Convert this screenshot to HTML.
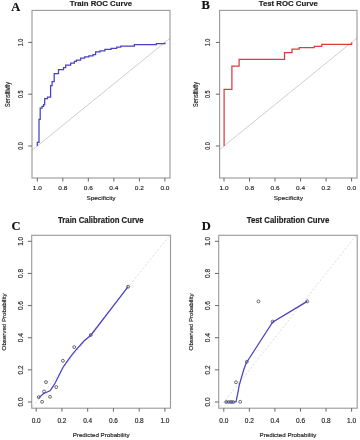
<!DOCTYPE html>
<html><head><meta charset="utf-8"><style>
html,body{margin:0;padding:0;background:#fff;width:360px;height:440px;overflow:hidden}
svg{display:block;will-change:transform;filter:blur(0.3px)}
</style></head><body>
<svg width="360" height="440" viewBox="0 0 360 440">
<rect width="360" height="440" fill="#fff"/>
<line x1="-62.7" y1="227.19122257053291" x2="264.9" y2="-38.79122257053291" stroke="#c8c8c8" stroke-width="0.9"  clip-path="url(#c32_10)"/>
<clipPath id="c32_10"><rect x="32" y="10.4" width="138" height="167.6"/></clipPath>
<polyline points="37.30,146.00 37.30,142.30 39.00,142.30 39.00,119.30 40.20,119.30 40.20,108.10 42.00,108.10 42.00,106.40 43.60,106.40 43.60,104.70 44.70,104.70 44.70,98.50 47.50,98.50 47.50,97.00 50.60,97.00 50.60,85.50 52.10,85.50 52.10,81.60 54.20,81.60 54.20,73.50 58.50,73.50 58.50,69.50 63.50,69.50 63.50,67.70 65.70,67.70 65.70,65.00 70.70,65.00 70.70,63.20 74.40,63.20 74.40,61.40 76.40,61.40 76.40,60.20 80.60,60.20 80.60,58.10 84.70,58.10 84.70,56.75 88.90,56.75 88.90,55.80 93.00,55.80 93.00,54.70 95.60,54.70 95.60,51.90 100.00,51.90 100.00,50.80 104.90,50.80 104.90,49.40 111.10,49.40 111.10,48.40 116.70,48.40 116.70,47.00 120.80,47.00 120.80,46.10 134.40,46.10 134.40,44.50 156.30,44.50 156.30,43.50 164.90,43.50 164.90,42.40" fill="none" stroke="#4840c6" stroke-width="1.25" stroke-linejoin="miter" stroke-linecap="butt" />
<rect x="32" y="10.4" width="138" height="167.6" fill="none" stroke="#9c9c9c" stroke-width="1.15"/>
<line x1="37.3" y1="178" x2="37.3" y2="181.5" stroke="#666" stroke-width="1"/>
<text transform="translate(37.3,190.2) scale(1,0.82)" font-family="Liberation Sans" font-size="6.5" font-weight="normal" text-anchor="middle" fill="#1e1e1e" stroke="#1e1e1e" stroke-width="0.16">1.0</text>
<line x1="62.81999999999999" y1="178" x2="62.81999999999999" y2="181.5" stroke="#666" stroke-width="1"/>
<text transform="translate(62.81999999999999,190.2) scale(1,0.82)" font-family="Liberation Sans" font-size="6.5" font-weight="normal" text-anchor="middle" fill="#1e1e1e" stroke="#1e1e1e" stroke-width="0.16">0.8</text>
<line x1="88.34" y1="178" x2="88.34" y2="181.5" stroke="#666" stroke-width="1"/>
<text transform="translate(88.34,190.2) scale(1,0.82)" font-family="Liberation Sans" font-size="6.5" font-weight="normal" text-anchor="middle" fill="#1e1e1e" stroke="#1e1e1e" stroke-width="0.16">0.6</text>
<line x1="113.85999999999999" y1="178" x2="113.85999999999999" y2="181.5" stroke="#666" stroke-width="1"/>
<text transform="translate(113.85999999999999,190.2) scale(1,0.82)" font-family="Liberation Sans" font-size="6.5" font-weight="normal" text-anchor="middle" fill="#1e1e1e" stroke="#1e1e1e" stroke-width="0.16">0.4</text>
<line x1="139.38" y1="178" x2="139.38" y2="181.5" stroke="#666" stroke-width="1"/>
<text transform="translate(139.38,190.2) scale(1,0.82)" font-family="Liberation Sans" font-size="6.5" font-weight="normal" text-anchor="middle" fill="#1e1e1e" stroke="#1e1e1e" stroke-width="0.16">0.2</text>
<line x1="164.89999999999998" y1="178" x2="164.89999999999998" y2="181.5" stroke="#666" stroke-width="1"/>
<text transform="translate(164.89999999999998,190.2) scale(1,0.82)" font-family="Liberation Sans" font-size="6.5" font-weight="normal" text-anchor="middle" fill="#1e1e1e" stroke="#1e1e1e" stroke-width="0.16">0.0</text>
<line x1="28.2" y1="146.0" x2="32" y2="146.0" stroke="#666" stroke-width="1"/>
<text transform="translate(22.5,146.0) scale(1,0.85) rotate(-90)" font-family="Liberation Sans" font-size="6.5" font-weight="normal" text-anchor="middle" fill="#1e1e1e" stroke="#1e1e1e" stroke-width="0.16">0.0</text>
<line x1="28.2" y1="94.2" x2="32" y2="94.2" stroke="#666" stroke-width="1"/>
<text transform="translate(22.5,94.2) scale(1,0.85) rotate(-90)" font-family="Liberation Sans" font-size="6.5" font-weight="normal" text-anchor="middle" fill="#1e1e1e" stroke="#1e1e1e" stroke-width="0.16">0.5</text>
<line x1="28.2" y1="42.400000000000006" x2="32" y2="42.400000000000006" stroke="#666" stroke-width="1"/>
<text transform="translate(22.5,42.400000000000006) scale(1,0.85) rotate(-90)" font-family="Liberation Sans" font-size="6.5" font-weight="normal" text-anchor="middle" fill="#1e1e1e" stroke="#1e1e1e" stroke-width="0.16">1.0</text>
<text transform="translate(101.0,200.4) scale(1,0.82)" font-family="Liberation Sans" font-size="6.5" font-weight="normal" text-anchor="middle" fill="#1e1e1e" stroke="#1e1e1e" stroke-width="0.16">Specificity</text>
<text transform="translate(10.2,94.5) scale(1,0.85) rotate(-90)" font-family="Liberation Sans" font-size="6.5" font-weight="normal" text-anchor="middle" fill="#1e1e1e" stroke="#1e1e1e" stroke-width="0.16">Sensitivity</text>
<text transform="translate(101,6.3) scale(1,0.9)" font-family="Liberation Sans" font-size="7.8" font-weight="bold" text-anchor="middle" fill="#222" stroke="#222" stroke-width="0.16">Train ROC Curve</text>
<text transform="translate(11.3,10.8) scale(1,1.0)" font-family="Liberation Serif" font-size="12.5" font-weight="bold" text-anchor="start" fill="#111" stroke="#111" stroke-width="0.16">A</text>
<line x1="124.0" y1="227.19122257053291" x2="451.6" y2="-38.79122257053291" stroke="#c8c8c8" stroke-width="0.9"  clip-path="url(#c219_10)"/>
<clipPath id="c219_10"><rect x="219.6" y="10.4" width="137.4" height="167.6"/></clipPath>
<polyline points="224.10,146.00 224.10,89.40 231.90,89.40 231.90,66.20 239.10,66.20 239.10,59.40 284.50,59.40 284.50,52.70 292.00,52.70 292.00,49.00 299.20,49.00 299.20,47.70 314.20,47.70 314.20,46.30 321.80,46.30 321.80,44.30 351.70,44.30 351.70,42.40" fill="none" stroke="#dd3b42" stroke-width="1.25" stroke-linejoin="miter" stroke-linecap="butt" />
<rect x="219.6" y="10.4" width="137.4" height="167.6" fill="none" stroke="#9c9c9c" stroke-width="1.15"/>
<line x1="224.0" y1="178" x2="224.0" y2="181.5" stroke="#666" stroke-width="1"/>
<text transform="translate(224.0,190.2) scale(1,0.82)" font-family="Liberation Sans" font-size="6.5" font-weight="normal" text-anchor="middle" fill="#1e1e1e" stroke="#1e1e1e" stroke-width="0.16">1.0</text>
<line x1="249.51999999999998" y1="178" x2="249.51999999999998" y2="181.5" stroke="#666" stroke-width="1"/>
<text transform="translate(249.51999999999998,190.2) scale(1,0.82)" font-family="Liberation Sans" font-size="6.5" font-weight="normal" text-anchor="middle" fill="#1e1e1e" stroke="#1e1e1e" stroke-width="0.16">0.8</text>
<line x1="275.04" y1="178" x2="275.04" y2="181.5" stroke="#666" stroke-width="1"/>
<text transform="translate(275.04,190.2) scale(1,0.82)" font-family="Liberation Sans" font-size="6.5" font-weight="normal" text-anchor="middle" fill="#1e1e1e" stroke="#1e1e1e" stroke-width="0.16">0.6</text>
<line x1="300.56" y1="178" x2="300.56" y2="181.5" stroke="#666" stroke-width="1"/>
<text transform="translate(300.56,190.2) scale(1,0.82)" font-family="Liberation Sans" font-size="6.5" font-weight="normal" text-anchor="middle" fill="#1e1e1e" stroke="#1e1e1e" stroke-width="0.16">0.4</text>
<line x1="326.08" y1="178" x2="326.08" y2="181.5" stroke="#666" stroke-width="1"/>
<text transform="translate(326.08,190.2) scale(1,0.82)" font-family="Liberation Sans" font-size="6.5" font-weight="normal" text-anchor="middle" fill="#1e1e1e" stroke="#1e1e1e" stroke-width="0.16">0.2</text>
<line x1="351.6" y1="178" x2="351.6" y2="181.5" stroke="#666" stroke-width="1"/>
<text transform="translate(351.6,190.2) scale(1,0.82)" font-family="Liberation Sans" font-size="6.5" font-weight="normal" text-anchor="middle" fill="#1e1e1e" stroke="#1e1e1e" stroke-width="0.16">0.0</text>
<line x1="215.79999999999998" y1="146.0" x2="219.6" y2="146.0" stroke="#666" stroke-width="1"/>
<text transform="translate(210.1,146.0) scale(1,0.85) rotate(-90)" font-family="Liberation Sans" font-size="6.5" font-weight="normal" text-anchor="middle" fill="#1e1e1e" stroke="#1e1e1e" stroke-width="0.16">0.0</text>
<line x1="215.79999999999998" y1="94.2" x2="219.6" y2="94.2" stroke="#666" stroke-width="1"/>
<text transform="translate(210.1,94.2) scale(1,0.85) rotate(-90)" font-family="Liberation Sans" font-size="6.5" font-weight="normal" text-anchor="middle" fill="#1e1e1e" stroke="#1e1e1e" stroke-width="0.16">0.5</text>
<line x1="215.79999999999998" y1="42.400000000000006" x2="219.6" y2="42.400000000000006" stroke="#666" stroke-width="1"/>
<text transform="translate(210.1,42.400000000000006) scale(1,0.85) rotate(-90)" font-family="Liberation Sans" font-size="6.5" font-weight="normal" text-anchor="middle" fill="#1e1e1e" stroke="#1e1e1e" stroke-width="0.16">1.0</text>
<text transform="translate(288.3,200.4) scale(1,0.82)" font-family="Liberation Sans" font-size="6.5" font-weight="normal" text-anchor="middle" fill="#1e1e1e" stroke="#1e1e1e" stroke-width="0.16">Specificity</text>
<text transform="translate(197.79999999999998,94.5) scale(1,0.85) rotate(-90)" font-family="Liberation Sans" font-size="6.5" font-weight="normal" text-anchor="middle" fill="#1e1e1e" stroke="#1e1e1e" stroke-width="0.16">Sensitivity</text>
<text transform="translate(288.3,6.3) scale(1,0.9)" font-family="Liberation Sans" font-size="7.8" font-weight="bold" text-anchor="middle" fill="#222" stroke="#222" stroke-width="0.16">Test ROC Curve</text>
<text transform="translate(201.5,8.8) scale(1,1.0)" font-family="Liberation Serif" font-size="12.5" font-weight="bold" text-anchor="start" fill="#111" stroke="#111" stroke-width="0.16">B</text>
<line x1="-92.49999999999999" y1="562.7" x2="293.59999999999997" y2="80.60000000000002" stroke="#d6d6d6" stroke-width="0.9" stroke-dasharray="2,2" clip-path="url(#c31_235)"/>
<clipPath id="c31_235"><rect x="31.7" y="235.3" width="138.8" height="172.89999999999998"/></clipPath>
<circle cx="38.75" cy="397.1" r="1.45" fill="none" stroke="#5a5a5a" stroke-width="0.9"/>
<circle cx="42.1" cy="401.8" r="1.45" fill="none" stroke="#5a5a5a" stroke-width="0.9"/>
<circle cx="44" cy="391.5" r="1.45" fill="none" stroke="#5a5a5a" stroke-width="0.9"/>
<circle cx="46" cy="382.1" r="1.45" fill="none" stroke="#5a5a5a" stroke-width="0.9"/>
<circle cx="50" cy="396.8" r="1.45" fill="none" stroke="#5a5a5a" stroke-width="0.9"/>
<circle cx="56.25" cy="387.1" r="1.45" fill="none" stroke="#5a5a5a" stroke-width="0.9"/>
<circle cx="62.9" cy="360.8" r="1.45" fill="none" stroke="#5a5a5a" stroke-width="0.9"/>
<circle cx="74.2" cy="347.1" r="1.45" fill="none" stroke="#5a5a5a" stroke-width="0.9"/>
<circle cx="90.7" cy="335" r="1.45" fill="none" stroke="#5a5a5a" stroke-width="0.9"/>
<circle cx="128.1" cy="286.7" r="1.45" fill="none" stroke="#5a5a5a" stroke-width="0.9"/>
<polyline points="38.75,397.90 43.30,393.75 50.00,390.80 52.90,386.70 55.40,382.50 59.20,375.00 62.90,367.50 67.50,360.80 72.50,354.20 76.70,349.20 84.20,340.80 90.70,335.50 128.10,286.70" fill="none" stroke="#4840c6" stroke-width="1.25" stroke-linejoin="miter" stroke-linecap="butt" stroke-linejoin="round"/>
<rect x="31.7" y="235.3" width="138.8" height="172.89999999999998" fill="none" stroke="#9c9c9c" stroke-width="1.15"/>
<line x1="36.2" y1="408.2" x2="36.2" y2="411.7" stroke="#666" stroke-width="1"/>
<text transform="translate(36.2,422.8) scale(1,1.0)" font-family="Liberation Sans" font-size="6.5" font-weight="normal" text-anchor="middle" fill="#1e1e1e" stroke="#1e1e1e" stroke-width="0.16">0.0</text>
<line x1="27.9" y1="402.0" x2="31.7" y2="402.0" stroke="#666" stroke-width="1"/>
<text transform="translate(22.7,402.0) scale(1,1.0) rotate(-90)" font-family="Liberation Sans" font-size="6.5" font-weight="normal" text-anchor="middle" fill="#1e1e1e" stroke="#1e1e1e" stroke-width="0.16">0.0</text>
<line x1="61.94" y1="408.2" x2="61.94" y2="411.7" stroke="#666" stroke-width="1"/>
<text transform="translate(61.94,422.8) scale(1,1.0)" font-family="Liberation Sans" font-size="6.5" font-weight="normal" text-anchor="middle" fill="#1e1e1e" stroke="#1e1e1e" stroke-width="0.16">0.2</text>
<line x1="27.9" y1="369.86" x2="31.7" y2="369.86" stroke="#666" stroke-width="1"/>
<text transform="translate(22.7,369.86) scale(1,1.0) rotate(-90)" font-family="Liberation Sans" font-size="6.5" font-weight="normal" text-anchor="middle" fill="#1e1e1e" stroke="#1e1e1e" stroke-width="0.16">0.2</text>
<line x1="87.68" y1="408.2" x2="87.68" y2="411.7" stroke="#666" stroke-width="1"/>
<text transform="translate(87.68,422.8) scale(1,1.0)" font-family="Liberation Sans" font-size="6.5" font-weight="normal" text-anchor="middle" fill="#1e1e1e" stroke="#1e1e1e" stroke-width="0.16">0.4</text>
<line x1="27.9" y1="337.72" x2="31.7" y2="337.72" stroke="#666" stroke-width="1"/>
<text transform="translate(22.7,337.72) scale(1,1.0) rotate(-90)" font-family="Liberation Sans" font-size="6.5" font-weight="normal" text-anchor="middle" fill="#1e1e1e" stroke="#1e1e1e" stroke-width="0.16">0.4</text>
<line x1="113.41999999999999" y1="408.2" x2="113.41999999999999" y2="411.7" stroke="#666" stroke-width="1"/>
<text transform="translate(113.41999999999999,422.8) scale(1,1.0)" font-family="Liberation Sans" font-size="6.5" font-weight="normal" text-anchor="middle" fill="#1e1e1e" stroke="#1e1e1e" stroke-width="0.16">0.6</text>
<line x1="27.9" y1="305.58000000000004" x2="31.7" y2="305.58000000000004" stroke="#666" stroke-width="1"/>
<text transform="translate(22.7,305.58000000000004) scale(1,1.0) rotate(-90)" font-family="Liberation Sans" font-size="6.5" font-weight="normal" text-anchor="middle" fill="#1e1e1e" stroke="#1e1e1e" stroke-width="0.16">0.6</text>
<line x1="139.16" y1="408.2" x2="139.16" y2="411.7" stroke="#666" stroke-width="1"/>
<text transform="translate(139.16,422.8) scale(1,1.0)" font-family="Liberation Sans" font-size="6.5" font-weight="normal" text-anchor="middle" fill="#1e1e1e" stroke="#1e1e1e" stroke-width="0.16">0.8</text>
<line x1="27.9" y1="273.44" x2="31.7" y2="273.44" stroke="#666" stroke-width="1"/>
<text transform="translate(22.7,273.44) scale(1,1.0) rotate(-90)" font-family="Liberation Sans" font-size="6.5" font-weight="normal" text-anchor="middle" fill="#1e1e1e" stroke="#1e1e1e" stroke-width="0.16">0.8</text>
<line x1="164.89999999999998" y1="408.2" x2="164.89999999999998" y2="411.7" stroke="#666" stroke-width="1"/>
<text transform="translate(164.89999999999998,422.8) scale(1,1.0)" font-family="Liberation Sans" font-size="6.5" font-weight="normal" text-anchor="middle" fill="#1e1e1e" stroke="#1e1e1e" stroke-width="0.16">1.0</text>
<line x1="27.9" y1="241.3" x2="31.7" y2="241.3" stroke="#666" stroke-width="1"/>
<text transform="translate(22.7,241.3) scale(1,1.0) rotate(-90)" font-family="Liberation Sans" font-size="6.5" font-weight="normal" text-anchor="middle" fill="#1e1e1e" stroke="#1e1e1e" stroke-width="0.16">1.0</text>
<text transform="translate(101.1,437.4) scale(1,1.0)" font-family="Liberation Sans" font-size="6.2" font-weight="normal" text-anchor="middle" fill="#1e1e1e" stroke="#1e1e1e" stroke-width="0.16">Predicted Probability</text>
<text transform="translate(6.199999999999999,321.9) scale(1,1.0) rotate(-90)" font-family="Liberation Sans" font-size="6.15" font-weight="normal" text-anchor="middle" fill="#1e1e1e" stroke="#1e1e1e" stroke-width="0.16">Observed Probability</text>
<text transform="translate(100.8,223.1) scale(1,1.05)" font-family="Liberation Sans" font-size="7.8" font-weight="bold" text-anchor="middle" fill="#222" stroke="#222" stroke-width="0.16">Train Calibration Curve</text>
<text transform="translate(11.5,229.8) scale(1,1.0)" font-family="Liberation Serif" font-size="12.5" font-weight="bold" text-anchor="start" fill="#111" stroke="#111" stroke-width="0.16">C</text>
<line x1="96.00000000000001" y1="562.7" x2="479.4" y2="80.60000000000002" stroke="#d6d6d6" stroke-width="0.9" stroke-dasharray="2,2" clip-path="url(#c218_235)"/>
<clipPath id="c218_235"><rect x="218.7" y="235.3" width="138.5" height="172.89999999999998"/></clipPath>
<circle cx="226.2" cy="402" r="1.45" fill="none" stroke="#5a5a5a" stroke-width="0.9"/>
<circle cx="228.6" cy="402" r="1.45" fill="none" stroke="#5a5a5a" stroke-width="0.9"/>
<circle cx="231" cy="402" r="1.45" fill="none" stroke="#5a5a5a" stroke-width="0.9"/>
<circle cx="233.2" cy="402" r="1.45" fill="none" stroke="#5a5a5a" stroke-width="0.9"/>
<circle cx="240.2" cy="401.8" r="1.45" fill="none" stroke="#5a5a5a" stroke-width="0.9"/>
<circle cx="236" cy="382.3" r="1.45" fill="none" stroke="#5a5a5a" stroke-width="0.9"/>
<circle cx="246.8" cy="361.8" r="1.45" fill="none" stroke="#5a5a5a" stroke-width="0.9"/>
<circle cx="258.5" cy="301.4" r="1.45" fill="none" stroke="#5a5a5a" stroke-width="0.9"/>
<circle cx="272.6" cy="321.6" r="1.45" fill="none" stroke="#5a5a5a" stroke-width="0.9"/>
<circle cx="307.2" cy="301.4" r="1.45" fill="none" stroke="#5a5a5a" stroke-width="0.9"/>
<polyline points="225.30,402.00 236.00,401.80 237.70,393.60 239.40,384.50 241.70,376.60 243.90,369.20 246.20,363.00 248.50,359.50 272.60,322.20 307.20,301.40" fill="none" stroke="#4840c6" stroke-width="1.25" stroke-linejoin="miter" stroke-linecap="butt" stroke-linejoin="round"/>
<rect x="218.7" y="235.3" width="138.5" height="172.89999999999998" fill="none" stroke="#9c9c9c" stroke-width="1.15"/>
<line x1="223.8" y1="408.2" x2="223.8" y2="411.7" stroke="#666" stroke-width="1"/>
<text transform="translate(223.8,422.8) scale(1,1.0)" font-family="Liberation Sans" font-size="6.5" font-weight="normal" text-anchor="middle" fill="#1e1e1e" stroke="#1e1e1e" stroke-width="0.16">0.0</text>
<line x1="214.89999999999998" y1="402.0" x2="218.7" y2="402.0" stroke="#666" stroke-width="1"/>
<text transform="translate(209.7,402.0) scale(1,1.0) rotate(-90)" font-family="Liberation Sans" font-size="6.5" font-weight="normal" text-anchor="middle" fill="#1e1e1e" stroke="#1e1e1e" stroke-width="0.16">0.0</text>
<line x1="249.36" y1="408.2" x2="249.36" y2="411.7" stroke="#666" stroke-width="1"/>
<text transform="translate(249.36,422.8) scale(1,1.0)" font-family="Liberation Sans" font-size="6.5" font-weight="normal" text-anchor="middle" fill="#1e1e1e" stroke="#1e1e1e" stroke-width="0.16">0.2</text>
<line x1="214.89999999999998" y1="369.86" x2="218.7" y2="369.86" stroke="#666" stroke-width="1"/>
<text transform="translate(209.7,369.86) scale(1,1.0) rotate(-90)" font-family="Liberation Sans" font-size="6.5" font-weight="normal" text-anchor="middle" fill="#1e1e1e" stroke="#1e1e1e" stroke-width="0.16">0.2</text>
<line x1="274.92" y1="408.2" x2="274.92" y2="411.7" stroke="#666" stroke-width="1"/>
<text transform="translate(274.92,422.8) scale(1,1.0)" font-family="Liberation Sans" font-size="6.5" font-weight="normal" text-anchor="middle" fill="#1e1e1e" stroke="#1e1e1e" stroke-width="0.16">0.4</text>
<line x1="214.89999999999998" y1="337.72" x2="218.7" y2="337.72" stroke="#666" stroke-width="1"/>
<text transform="translate(209.7,337.72) scale(1,1.0) rotate(-90)" font-family="Liberation Sans" font-size="6.5" font-weight="normal" text-anchor="middle" fill="#1e1e1e" stroke="#1e1e1e" stroke-width="0.16">0.4</text>
<line x1="300.48" y1="408.2" x2="300.48" y2="411.7" stroke="#666" stroke-width="1"/>
<text transform="translate(300.48,422.8) scale(1,1.0)" font-family="Liberation Sans" font-size="6.5" font-weight="normal" text-anchor="middle" fill="#1e1e1e" stroke="#1e1e1e" stroke-width="0.16">0.6</text>
<line x1="214.89999999999998" y1="305.58000000000004" x2="218.7" y2="305.58000000000004" stroke="#666" stroke-width="1"/>
<text transform="translate(209.7,305.58000000000004) scale(1,1.0) rotate(-90)" font-family="Liberation Sans" font-size="6.5" font-weight="normal" text-anchor="middle" fill="#1e1e1e" stroke="#1e1e1e" stroke-width="0.16">0.6</text>
<line x1="326.04" y1="408.2" x2="326.04" y2="411.7" stroke="#666" stroke-width="1"/>
<text transform="translate(326.04,422.8) scale(1,1.0)" font-family="Liberation Sans" font-size="6.5" font-weight="normal" text-anchor="middle" fill="#1e1e1e" stroke="#1e1e1e" stroke-width="0.16">0.8</text>
<line x1="214.89999999999998" y1="273.44" x2="218.7" y2="273.44" stroke="#666" stroke-width="1"/>
<text transform="translate(209.7,273.44) scale(1,1.0) rotate(-90)" font-family="Liberation Sans" font-size="6.5" font-weight="normal" text-anchor="middle" fill="#1e1e1e" stroke="#1e1e1e" stroke-width="0.16">0.8</text>
<line x1="351.6" y1="408.2" x2="351.6" y2="411.7" stroke="#666" stroke-width="1"/>
<text transform="translate(351.6,422.8) scale(1,1.0)" font-family="Liberation Sans" font-size="6.5" font-weight="normal" text-anchor="middle" fill="#1e1e1e" stroke="#1e1e1e" stroke-width="0.16">1.0</text>
<line x1="214.89999999999998" y1="241.3" x2="218.7" y2="241.3" stroke="#666" stroke-width="1"/>
<text transform="translate(209.7,241.3) scale(1,1.0) rotate(-90)" font-family="Liberation Sans" font-size="6.5" font-weight="normal" text-anchor="middle" fill="#1e1e1e" stroke="#1e1e1e" stroke-width="0.16">1.0</text>
<text transform="translate(287.95,437.4) scale(1,1.0)" font-family="Liberation Sans" font-size="6.2" font-weight="normal" text-anchor="middle" fill="#1e1e1e" stroke="#1e1e1e" stroke-width="0.16">Predicted Probability</text>
<text transform="translate(193.2,321.9) scale(1,1.0) rotate(-90)" font-family="Liberation Sans" font-size="6.15" font-weight="normal" text-anchor="middle" fill="#1e1e1e" stroke="#1e1e1e" stroke-width="0.16">Observed Probability</text>
<text transform="translate(288,223.1) scale(1,1.05)" font-family="Liberation Sans" font-size="7.8" font-weight="bold" text-anchor="middle" fill="#222" stroke="#222" stroke-width="0.16">Test Calibration Curve</text>
<text transform="translate(201.8,229.8) scale(1,1.0)" font-family="Liberation Serif" font-size="12.5" font-weight="bold" text-anchor="start" fill="#111" stroke="#111" stroke-width="0.16">D</text>
</svg>
</body></html>
